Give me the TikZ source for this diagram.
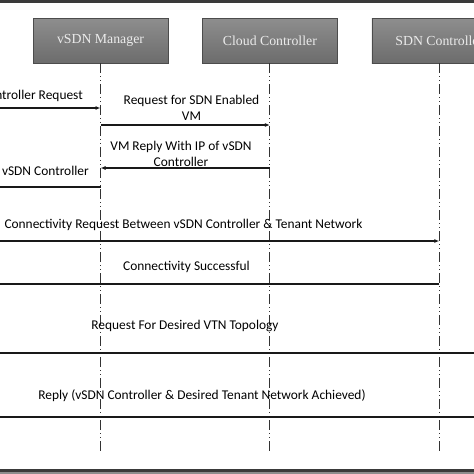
\documentclass[tikz,border=0pt]{standalone}
\usepackage{fontspec}
\setmainfont{Carlito}
\newfontfamily\actorfont{Liberation Serif}
\usetikzlibrary{arrows.meta, positioning, calc}
\definecolor{framegray}{HTML}{3A3A3A}
\definecolor{boxtop}{HTML}{8E8E8E}
\definecolor{boxbot}{HTML}{6C6C6C}

\begin{document}
\begin{tikzpicture}[x=1pt, y=-1pt,
    every node/.style={font=\fontsize{13.4}{16}\selectfont},
    actor/.style={rectangle, draw=black!70, top color=boxtop, bottom color=boxbot,
                  minimum width=135pt, minimum height=45pt, inner sep=2pt,
                  text=white!92!black, font=\actorfont\fontsize{13.8}{15}\selectfont},
    life/.style={line width=1.1pt, black!80,
                 dash pattern=on 10pt off 3pt on 1pt off 3pt on 1pt off 3pt},
    msg/.style={line width=1.2pt, black!90, -{Latex[length=5pt, width=4pt]}},
    msgtext/.style={align=center, text=black, inner sep=1pt},
]
\clip (0,0) rectangle (474,474);
\fill[white] (0,0) rectangle (474,474);
\fill[framegray] (0,0) rectangle (474,3);
\fill[framegray] (0,469) rectangle (474,471.5);
\fill[black!45] (0,471.5) rectangle (474,474);

\node[actor] (vsdn) at (100.5,40.5) {vSDN Manager};
\node[actor, right=34pt of vsdn] (cloud) {Cloud Controller};
\node[actor, right=34pt of cloud] (sdn) {SDN Controller};
\coordinate (tenant) at (-68,40.5);
\coordinate (tnet) at (605,40.5);

\foreach \n in {vsdn, cloud, sdn} {
    \draw[life] (\n.south) -- (\n |- 0,452);
}

\draw[msg] (tenant |- 0,108) -- (vsdn |- 0,108);
\draw[msg] (vsdn |- 0,125) -- (cloud |- 0,125);
\draw[msg] (cloud |- 0,168) -- (vsdn |- 0,168);
\draw[msg] (vsdn |- 0,187) -- (tenant |- 0,187);
\draw[msg] (tenant |- 0,241) -- (sdn |- 0,241);
\draw[msg] (sdn |- 0,284) -- (tenant |- 0,284);
\draw[msg] (tenant |- 0,353) -- (tnet |- 0,353);
\draw[msg] (tnet |- 0,417) -- (tenant |- 0,417);

\node[msgtext, anchor=east] (m1) at (84,96) {Controller Request};
\node[msgtext] (m2) at (191.5,108) {Request for SDN Enabled\\VM};
\node[msgtext] (m3) at (181,153.5) {VM Reply With IP of vSDN\\Controller};
\node[msgtext, anchor=east] (m4) at (90,171) {vSDN Controller};
\node[msgtext] (m5) at (183.5,225)
    {Connectivity Request Between vSDN Controller \& Tenant Network};
\node[msgtext] (m6) at (186.5,267) {Connectivity Successful};
\node[msgtext] (m7) at (185,326) {Request For Desired VTN Topology};
\node[msgtext] (m8) at (202,396)
    {Reply (vSDN Controller \& Desired Tenant Network Achieved)};

\end{tikzpicture}
\end{document}
